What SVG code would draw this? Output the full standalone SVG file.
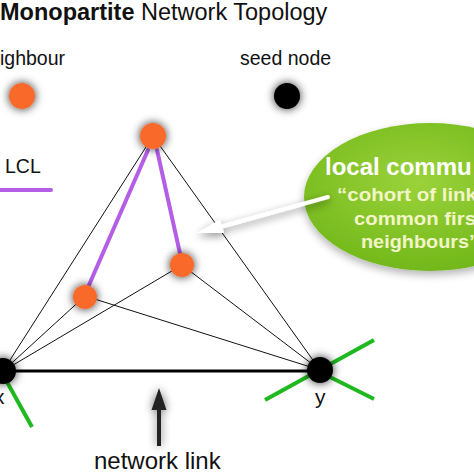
<svg xmlns="http://www.w3.org/2000/svg" width="474" height="474" viewBox="0 0 474 474">
<defs>
<style>
.t{font-family:"Liberation Sans",Arial,sans-serif;fill:#111}
.bt{font-family:"Liberation Sans",Arial,sans-serif;font-weight:bold}
.thin{stroke:#111;stroke-width:1;fill:none}
.lcl{stroke:#b45ee8;stroke-width:4;fill:none;stroke-linecap:round}
.grn{stroke:#1fb81f;stroke-width:4;fill:none}
.or{fill:#f96a2c}
.bk{fill:#000}
.sub{fill:#f2f5c8}
</style>
<filter id="glow" x="-150%" y="-150%" width="400%" height="400%">
<feGaussianBlur in="SourceAlpha" stdDeviation="5"/>
<feComponentTransfer><feFuncA type="linear" slope="1.1"/></feComponentTransfer>
<feComposite in2="SourceAlpha" operator="arithmetic" k1="0" k2="0.75" k3="0" k4="0"/>
<feMerge><feMergeNode/><feMergeNode in="SourceGraphic"/></feMerge>
</filter>
<filter id="glowU" filterUnits="userSpaceOnUse" x="0" y="0" width="474" height="474">
<feGaussianBlur in="SourceAlpha" stdDeviation="5"/>
<feComponentTransfer><feFuncA type="linear" slope="0.6"/></feComponentTransfer>
<feMerge><feMergeNode/><feMergeNode in="SourceGraphic"/></feMerge>
</filter>
<filter id="sh" x="-20%" y="-50%" width="140%" height="200%">
<feGaussianBlur in="SourceAlpha" stdDeviation="4"/>
<feOffset dx="0" dy="4"/>
<feComponentTransfer><feFuncA type="linear" slope="0.3"/></feComponentTransfer>
<feMerge><feMergeNode/><feMergeNode in="SourceGraphic"/></feMerge>
</filter>
<filter id="shU" filterUnits="userSpaceOnUse" x="0" y="0" width="474" height="474">
<feGaussianBlur in="SourceAlpha" stdDeviation="4"/>
<feOffset dx="0" dy="3"/>
<feComponentTransfer><feFuncA type="linear" slope="0.45"/></feComponentTransfer>
<feMerge><feMergeNode/><feMergeNode in="SourceGraphic"/></feMerge>
</filter>
<radialGradient id="gg" cx="0.45" cy="0.4" r="0.6">
<stop offset="0" stop-color="#9bd23a"/>
<stop offset="1" stop-color="#72b81a"/>
</radialGradient>
</defs>
<rect width="474" height="474" fill="#fff"/>
<g id="title">
<text class="t" x="0" y="20" font-size="23.5"><tspan font-weight="bold">Monopartite</tspan> Network Topology</text>
</g>
<g id="legend">
<text class="t" x="0" y="65" font-size="19.5">ighbour</text>
<circle class="or" cx="22" cy="96" r="13" filter="url(#glow)"/>
<text class="t" x="240" y="65" font-size="19.5">seed node</text>
<circle class="bk" cx="287" cy="96" r="13" filter="url(#glow)"/>
<text class="t" x="5" y="173" font-size="19.5">LCL</text>
<line class="lcl" x1="-2" y1="190" x2="51" y2="190" stroke-linecap="butt"/>
</g>
<g id="community">
<ellipse cx="430" cy="197" rx="126" ry="74" fill="url(#gg)" filter="url(#sh)"/>
<text class="bt" x="325" y="175" font-size="24" fill="#fff">local commu</text>
<text class="bt sub" x="337" y="201" font-size="19" textLength="140" lengthAdjust="spacingAndGlyphs">“cohort of link</text>
<text class="bt sub" x="354" y="225" font-size="19" textLength="122" lengthAdjust="spacingAndGlyphs">common firs</text>
<text class="bt sub" x="361" y="248" font-size="19" textLength="118" lengthAdjust="spacingAndGlyphs">neighbours”</text>
</g>
<g id="connectors">
<line class="thin" x1="153" y1="136" x2="3" y2="371"/>
<line class="thin" x1="153" y1="136" x2="320" y2="370"/>
<line class="thin" x1="3" y1="371" x2="85" y2="296"/>
<line class="thin" x1="3" y1="371" x2="182" y2="265"/>
<line class="thin" x1="85" y1="296" x2="320" y2="370"/>
<line class="thin" x1="182" y1="265" x2="320" y2="370"/>
<line x1="3" y1="371" x2="320" y2="371" stroke="#000" stroke-width="3"/>
<line class="lcl" x1="148" y1="150" x2="89" y2="285"/>
<line class="lcl" x1="157" y1="150" x2="181" y2="258"/>
<line class="grn" x1="265" y1="400" x2="374" y2="340"/>
<line class="grn" x1="330" y1="377" x2="374" y2="399"/>
<line class="grn" x1="7" y1="382" x2="32" y2="427"/>
<g id="link-arrow" filter="url(#glowU)">
<line x1="159" y1="446" x2="159" y2="405" stroke="#222" stroke-width="4"/>
<polygon points="159,388 151.5,410 166.5,410" fill="#222"/>
</g>
<g id="pointer-arrow" filter="url(#shU)">
<line x1="328" y1="197" x2="220" y2="227" stroke="#fff" stroke-width="4" stroke-linecap="round"/>
<polygon points="197,233 224,233 220,219.4" fill="#fff"/>
</g>
</g>
<g id="node-top"><circle class="or" cx="153" cy="136" r="13" filter="url(#glow)"/></g>
<g id="node-mid"><circle class="or" cx="182" cy="265" r="12" filter="url(#glow)"/></g>
<g id="node-low"><circle class="or" cx="85" cy="297" r="12" filter="url(#glow)"/></g>
<g id="node-x"><circle class="bk" cx="3" cy="371" r="13" filter="url(#glow)"/>
<text class="t" x="-6" y="404" font-size="21">x</text></g>
<g id="node-y"><circle class="bk" cx="320" cy="370" r="13" filter="url(#glow)"/>
<text class="t" x="315" y="404" font-size="21">y</text></g>
<g id="label-link"><text class="t" x="94" y="469" font-size="24">network link</text></g>
</svg>
